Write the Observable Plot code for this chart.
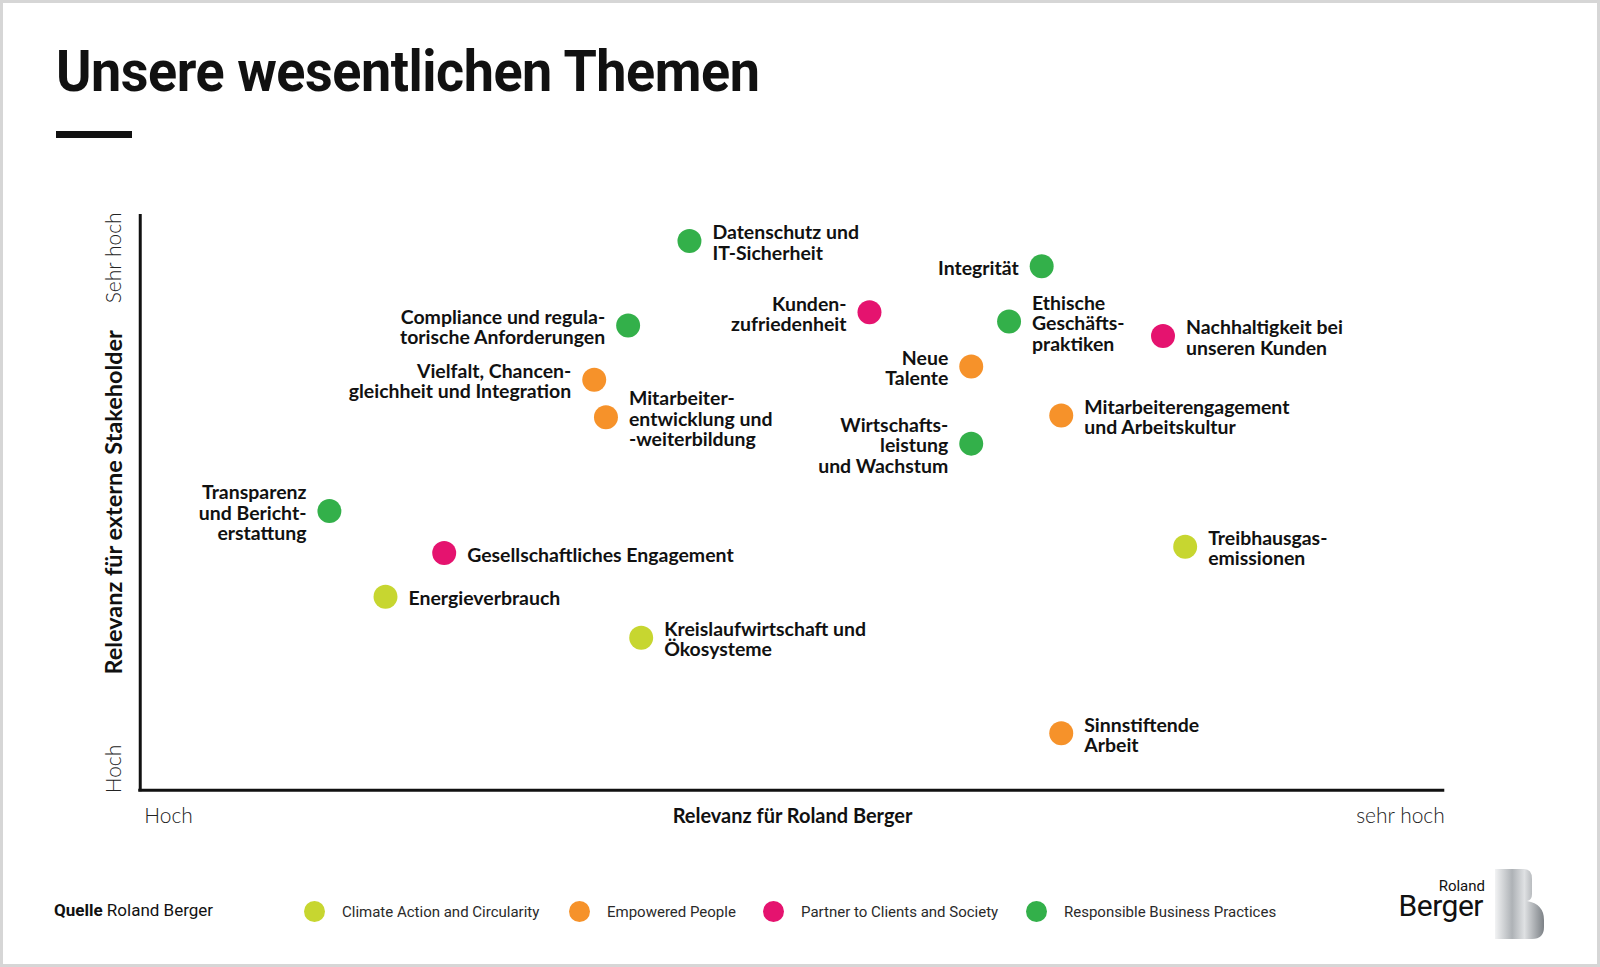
<!DOCTYPE html>
<html>
<head>
<meta charset="utf-8">
<script src="https://cdn.jsdelivr.net/npm/d3@7"></script>
<script src="https://cdn.jsdelivr.net/npm/@observablehq/plot@0.6"></script>
<style>
  html, body { margin: 0; padding: 0; background: #fff; }
  #frame { position: relative; width: 1600px; height: 967px; box-sizing: border-box; border: 3px solid #d6d6d6; overflow: hidden; font-family: Lato, "Noto Sans", sans-serif; color: #111; }
  #title { position: absolute; left: 53px; top: 34px; font-family: Roboto, sans-serif; font-weight: 700; font-size: 58px; letter-spacing: -0.5px; transform-origin: left top; transform: scaleX(0.93); white-space: nowrap; }
  #bar { position: absolute; left: 53px; top: 128px; width: 76px; height: 7px; background: #111; }
  #chart { position: absolute; left: -3px; top: 177px; }
  #source { position: absolute; left: 51px; top: 897px; font-family: Roboto, sans-serif; font-size: 17px; }
  #source b { font-weight: 700; }
  #legend { position: absolute; left: 0; top: 898px; font-family: Roboto, sans-serif; font-size: 15px; color: #2a2a2a; }
  .li { position: absolute; white-space: nowrap; display: flex; align-items: center; }
  .sw { width: 21px; height: 21px; border-radius: 50%; margin-right: 17px; }
  #logo { position: absolute; left: 1387px; top: 862px; }
</style>
</head>
<body>
<div id="frame">
  <div id="title">Unsere wesentlichen Themen</div>
  <div id="bar"></div>
  <div id="chart"></div>
  <div id="source"><b>Quelle</b> Roland Berger</div>
  <div id="legend"></div>
  <svg id="logo" width="160" height="85" viewBox="0 0 160 85">
    <defs>
      <linearGradient id="bg" x1="0" x2="1" y1="0" y2="0">
        <stop offset="0" stop-color="#f2f3f4"/>
        <stop offset="0.35" stop-color="#aeb2b6"/>
        <stop offset="0.6" stop-color="#dfe1e3"/>
        <stop offset="1" stop-color="#7c8186"/>
      </linearGradient>
    </defs>
    <text text-anchor="end" font-family="Roboto, sans-serif" fill="#111"><tspan x="95" y="26" font-size="15">Roland</tspan><tspan x="93" y="51" font-size="30" letter-spacing="-0.5">Berger</tspan></text>
    <path d="M105,4 H134 Q142,4 142,14 V29 Q142,35 137,36 Q154,39 154,55 V62 Q154,74 142,74 H105 Z" fill="url(#bg)"/>
  </svg>
</div>
<script>
// ---- data ----
const topics = [
  "Datenschutz und IT-Sicherheit",
  "Integrität",
  "Kundenzufriedenheit",
  "Ethische Geschäftspraktiken",
  "Nachhaltigkeit bei unseren Kunden",
  "Compliance und regulatorische Anforderungen",
  "Vielfalt, Chancengleichheit und Integration",
  "Neue Talente",
  "Mitarbeiterentwicklung und -weiterbildung",
  "Mitarbeiterengagement und Arbeitskultur",
  "Wirtschaftsleistung und Wachstum",
  "Transparenz und Berichterstattung",
  "Treibhausgasemissionen",
  "Gesellschaftliches Engagement",
  "Energieverbrauch",
  "Kreislaufwirtschaft und Ökosysteme",
  "Sinnstiftende Arbeit"
];
const labelLines = [
  "Datenschutz und\nIT-Sicherheit",
  "Integrität",
  "Kunden-\nzufriedenheit",
  "Ethische\nGeschäfts-\npraktiken",
  "Nachhaltigkeit bei\nunseren Kunden",
  "Compliance und regula-\ntorische Anforderungen",
  "Vielfalt, Chancen-\ngleichheit und Integration",
  "Neue\nTalente",
  "Mitarbeiter-\nentwicklung und\n-weiterbildung",
  "Mitarbeiterengagement\nund Arbeitskultur",
  "Wirtschafts-\nleistung\nund Wachstum",
  "Transparenz\nund Bericht-\nerstattung",
  "Treibhausgas-\nemissionen",
  "Gesellschaftliches Engagement",
  "Energieverbrauch",
  "Kreislaufwirtschaft und\nÖkosysteme",
  "Sinnstiftende\nArbeit"
];
// Relevanz für Roland Berger (0 = Hoch, 100 = sehr hoch)
const relevanceRB = [42.1, 69.1, 55.9, 66.6, 78.4, 37.4, 34.8, 63.7, 35.7, 70.6, 63.7, 14.5, 80.1, 23.3, 18.8, 38.4, 70.6];
// Relevanz für externe Stakeholder (0 = Hoch, 100 = Sehr hoch)
const relevanceStakeholder = [95.4, 91.0, 83.0, 81.4, 78.9, 80.7, 71.3, 73.6, 64.8, 65.1, 60.2, 48.5, 42.3, 41.2, 33.6, 26.5, 9.9];
const pillar = [
  "Responsible Business Practices",
  "Responsible Business Practices",
  "Partner to Clients and Society",
  "Responsible Business Practices",
  "Partner to Clients and Society",
  "Responsible Business Practices",
  "Empowered People",
  "Empowered People",
  "Empowered People",
  "Empowered People",
  "Responsible Business Practices",
  "Responsible Business Practices",
  "Climate Action and Circularity",
  "Partner to Clients and Society",
  "Climate Action and Circularity",
  "Climate Action and Circularity",
  "Empowered People"
];
const pillars = ["Climate Action and Circularity", "Empowered People", "Partner to Clients and Society", "Responsible Business Practices"];
const pillarColors = ["#c7d630", "#f6922a", "#e5136f", "#33b04a"];
// topics whose label sits left of the dot
const labelLeft = [
  "Integrität", "Kundenzufriedenheit", "Compliance und regulatorische Anforderungen",
  "Vielfalt, Chancengleichheit und Integration", "Neue Talente",
  "Wirtschaftsleistung und Wachstum", "Transparenz und Berichterstattung"
];

const data = topics.map((t, i) => ({
  topic: t, label: labelLines[i], rb: relevanceRB[i], sh: relevanceStakeholder[i], pillar: pillar[i],
  left: labelLeft.includes(t)
}));

const labelStyle = { fontWeight: 700, fontSize: 19.5, lineHeight: 1.05, fill: "#111" };

const chart = Plot.plot({
  width: 1600,
  height: 663,
  marginLeft: 140,
  marginRight: 153,
  marginTop: 34,
  marginBottom: 52,
  style: { fontFamily: "Lato, 'Noto Sans', sans-serif", fontSize: "18px", color: "#111", background: "transparent", overflow: "visible" },
  x: { domain: [0, 100], axis: null },
  y: { domain: [0, 100], axis: null },
  color: { domain: pillars, range: pillarColors },
  marks: [
    Plot.ruleX([0], { stroke: "#111", strokeWidth: 3, y1: 100, y2: 0, insetBottom: -1.5 }),
    Plot.ruleY([0], { stroke: "#111", strokeWidth: 3, x1: 0, x2: 100, insetLeft: -1.5 }),
    Plot.dot(data, { x: "rb", y: "sh", r: 12, fill: "pillar" }),
    Plot.text(data.filter(d => !d.left), { x: "rb", y: "sh", text: "label", textAnchor: "start", dx: 23, dy: 2, ...labelStyle }),
    Plot.text(data.filter(d => d.left), { x: "rb", y: "sh", text: "label", textAnchor: "end", dx: -23, dy: 2, ...labelStyle }),
    // axis annotations
    Plot.text(["Hoch"], { frameAnchor: "bottom-left", dx: 4, dy: 33, textAnchor: "start", fontSize: 21, fontWeight: 300, fill: "#222" }),
    Plot.text(["sehr hoch"], { frameAnchor: "bottom-right", dx: 0, dy: 33, textAnchor: "end", fontSize: 21, fontWeight: 300, fill: "#222" }),
    Plot.text(["Relevanz für Roland Berger"], { frameAnchor: "bottom", dy: 33, textAnchor: "middle", fontSize: 20, fontWeight: 700, fill: "#111" }),
    Plot.text(["Sehr hoch"], { frameAnchor: "top-left", dx: -26, dy: -2, rotate: -90, textAnchor: "end", lineAnchor: "middle", fontSize: 21, fontWeight: 300, fill: "#222" }),
    Plot.text(["Hoch"], { frameAnchor: "bottom-left", dx: -26, dy: 3, rotate: -90, textAnchor: "start", lineAnchor: "middle", fontSize: 21, fontWeight: 300, fill: "#222" }),
    Plot.text(["Relevanz für externe Stakeholder"], { frameAnchor: "left", dx: -26, rotate: -90, textAnchor: "middle", lineAnchor: "middle", fontSize: 23.5, fontWeight: 700, fill: "#111" })
  ]
});
document.getElementById("chart").appendChild(chart);

// legend
const legendX = [301, 566, 760, 1023];
const legend = document.getElementById("legend");
pillars.forEach((p, i) => {
  const el = document.createElement("div");
  el.className = "li";
  el.style.left = legendX[i] + "px";
  const sw = document.createElement("span");
  sw.className = "sw";
  sw.style.background = pillarColors[i];
  el.appendChild(sw);
  el.appendChild(document.createTextNode(p));
  legend.appendChild(el);
});
</script>
</body>
</html>
